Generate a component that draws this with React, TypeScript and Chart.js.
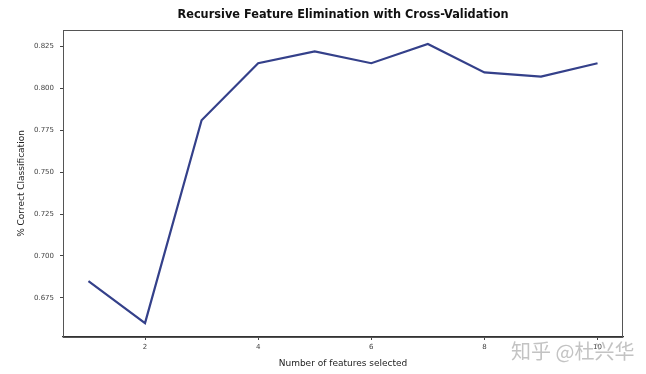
import React, { useEffect, useRef } from 'react';
import { Chart, registerables } from 'chart.js';

Chart.register(...registerables);

const features = [1, 2, 3, 4, 5, 6, 7, 8, 9, 10];
const scores = [0.685, 0.66, 0.781, 0.815, 0.822, 0.815, 0.8265, 0.8095, 0.807, 0.815];
const xTicks = [2, 4, 6, 8, 10];
const yTicks = [0.675, 0.7, 0.725, 0.75, 0.775, 0.8, 0.825];
const titleText = 'Recursive Feature Elimination with Cross-Validation';
const xLabel = 'Number of features selected';
const yLabel = '% Correct Classification';
const watermark = '知乎 @杜兴华';

const FAMILY = '"DejaVu Sans", sans-serif';

const decor = {
  id: 'decor',
  afterDraw(chart: any) {
    const { ctx, chartArea: a } = chart;
    ctx.save();
    ctx.strokeStyle = '#555';
    ctx.lineWidth = 1;
    ctx.strokeRect(a.left + 0.5, a.top + 0.5, a.right - a.left - 1, a.bottom - a.top);
    ctx.restore();

    ctx.save();
    ctx.font = 'bold 13px ' + FAMILY;
    ctx.fillStyle = '#111';
    ctx.textAlign = 'center';
    ctx.textBaseline = 'middle';
    const cx = (a.left + a.right) / 2;
    const w = ctx.measureText(titleText).width;
    const sx = Math.min(1, 331 / w);
    ctx.translate(cx, 15);
    ctx.scale(sx, 1);
    ctx.fillText(titleText, 0, 0);
    ctx.restore();

    ctx.save();
    ctx.font = '20px "Noto Sans CJK SC"';
    ctx.fillStyle = 'rgba(175,175,175,0.75)';
    ctx.textAlign = 'left';
    ctx.textBaseline = 'middle';
    ctx.fillText(watermark, 511, 351);
    ctx.restore();
  },
};

export default function App() {
  const ref = useRef<HTMLCanvasElement>(null);
  useEffect(() => {
    if (!ref.current) return;
    const xr = features[features.length - 1] - features[0];
    const ymin = Math.min(...scores);
    const ymax = Math.max(...scores);
    const yr = ymax - ymin;
    const chart = new Chart(ref.current, {
      type: 'line',
      data: {
        datasets: [
          {
            data: features.map((f, i) => ({ x: f, y: scores[i] })),
            borderColor: '#34408a',
            borderWidth: 2.2,
            pointRadius: 0,
            tension: 0,
            fill: false,
          },
        ],
      },
      plugins: [decor],
      options: {
        animation: false,
        responsive: false,
        maintainAspectRatio: false,
        layout: { padding: { top: 30, right: 23, left: 0, bottom: 0 } },
        plugins: { legend: { display: false }, tooltip: { enabled: false }, title: { display: false } },
        scales: {
          x: {
            type: 'linear',
            min: features[0] - 0.05 * xr,
            max: features[features.length - 1] + 0.05 * xr,
            afterBuildTicks: (s: any) => {
              s.ticks = xTicks.map((v) => ({ value: v }));
            },
            afterFit: (s: any) => {
              s.height = 37;
            },
            grid: { drawOnChartArea: false, tickLength: 3, color: '#444' },
            border: { color: '#333', width: 1.2 },
            ticks: {
              font: { size: 7, family: FAMILY },
              color: '#444',
              padding: 3,
              maxRotation: 0,
              autoSkip: false,
              callback: (v: any) => String(v),
            },
            title: {
              display: true,
              text: xLabel,
              font: { size: 9, family: FAMILY },
              color: '#222',
              padding: { top: 0, bottom: 5 },
            },
          },
          y: {
            type: 'linear',
            min: ymin - 0.05 * yr,
            max: ymax + 0.05 * yr,
            afterBuildTicks: (s: any) => {
              s.ticks = yTicks.map((v) => ({ value: v }));
            },
            afterFit: (s: any) => {
              s.width = 63;
            },
            grid: { drawOnChartArea: false, tickLength: 3, color: '#444' },
            border: { color: '#555', width: 1 },
            ticks: {
              font: { size: 7, family: FAMILY },
              color: '#444',
              padding: 6,
              autoSkip: false,
              callback: (v: any) => Number(v).toFixed(3),
            },
            title: {
              display: true,
              text: yLabel,
              font: { size: 9, family: FAMILY },
              color: '#222',
              padding: { top: 16, bottom: 0 },
            },
          },
        },
      },
    } as any);
    return () => chart.destroy();
  }, []);
  return (
    <div style={{ position: 'absolute', left: 0, top: 0, width: 646, height: 374, background: '#fff' }}>
      <canvas ref={ref} width={646} height={374} style={{ display: 'block' }} />
    </div>
  );
}
